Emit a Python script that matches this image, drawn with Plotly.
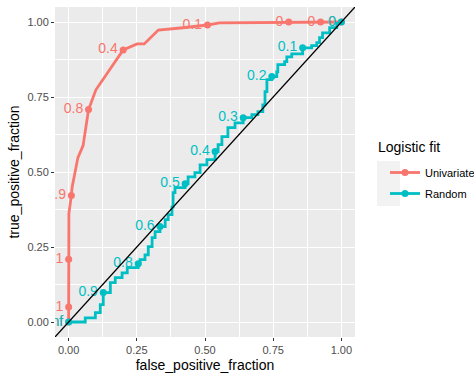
import plotly.graph_objects as go

# Univariate logistic fit ROC
uni_fpr = [0, 0, 0, 0.001, 0.010, 0.013, 0.034, 0.053, 0.073, 0.100, 0.200, 0.251,
           0.277, 0.329, 0.410, 0.509, 0.553, 0.807, 0.924, 1.0]
uni_tpr = [0, 0.050, 0.209, 0.362, 0.422, 0.450, 0.548, 0.588, 0.708, 0.774, 0.907,
           0.927, 0.927, 0.973, 0.980, 0.990, 0.997, 1.0, 1.0, 1.0]
uni_lab = ['Inf', '1', '1', '', '0.9', '', '', '', '0.8', '', '0.4', '', '',
           '', '', '0.1', '', '0', '0', '0']

# Random logistic fit ROC (step curve corners)
rnd_fpr = [0, 0.061, 0.098, 0.116, 0.127, 0.153, 0.171, 0.196, 0.215, 0.255, 0.262,
           0.280, 0.292, 0.306, 0.317, 0.335, 0.354, 0.365, 0.379, 0.383, 0.390,
           0.427, 0.438, 0.463, 0.482, 0.507, 0.537, 0.548, 0.562, 0.584, 0.610,
           0.640, 0.672, 0.694, 0.712, 0.720, 0.727, 0.745, 0.763, 0.767, 0.792,
           0.800, 0.818, 0.858, 0.891, 0.910, 0.920, 0.931, 0.957, 0.983, 1.0]
rnd_tpr = [0, 0.014, 0.031, 0.058, 0.098, 0.131, 0.148, 0.164, 0.181, 0.194, 0.208,
           0.224, 0.251, 0.281, 0.301, 0.318, 0.341, 0.358, 0.384, 0.431, 0.448,
           0.461, 0.484, 0.498, 0.524, 0.541, 0.568, 0.591, 0.618, 0.648, 0.664,
           0.681, 0.691, 0.701, 0.724, 0.768, 0.808, 0.818, 0.834, 0.858, 0.868,
           0.884, 0.894, 0.914, 0.921, 0.931, 0.948, 0.964, 0.981, 0.995, 1.0]
rnd_lab = ['Inf', '', '', '', '0.9', '', '', '', '', '0.8', '', '', '', '', '',
           '0.6', '', '', '', '', '', '0.5', '', '', '', '', '0.4', '', '', '', '',
           '0.3', '', '', '', '', '', '0.2', '', '', '', '', '', '0.1', '', '', '',
           '', '', '', '0']

diag = [-0.05, 1.05]
ticks = [0, 0.25, 0.5, 0.75, 1.0]
tick_text = ['0.00', '0.25', '0.50', '0.75', '1.00']
minor_ticks = [0.125, 0.375, 0.625, 0.875]

RED = '#F8766D'
TEAL = '#00BFC4'
FONT = 'Liberation Sans, Arial, sans-serif'

fig = go.Figure()


def add_series(fpr, tpr, lab, color, name, shape, group):
    fig.add_trace(go.Scatter(x=fpr, y=tpr, mode='lines', line=dict(color=color, width=2.8, shape=shape),
                             showlegend=False, hoverinfo='skip', legendgroup=group))
    lx = [x for x, l in zip(fpr, lab) if l]
    ly = [y for y, l in zip(tpr, lab) if l]
    lt = [l for l in lab if l]
    fig.add_trace(go.Scatter(x=lx, y=ly, mode='markers+text', text=lt,
                             textposition='middle left',
                             textfont=dict(color=color, size=14, family=FONT),
                             marker=dict(color=color, size=7),
                             showlegend=False, cliponaxis=True, legendgroup=group))
    fig.add_trace(go.Scatter(x=[None], y=[None], mode='lines+markers', name=name,
                             line=dict(color=color, width=2.8), marker=dict(color=color, size=7),
                             legendgroup=group))


add_series(uni_fpr, uni_tpr, uni_lab, RED, 'Univariate', 'linear', 'uni')
add_series(rnd_fpr, rnd_tpr, rnd_lab, TEAL, 'Random', 'hv', 'rnd')

fig.add_trace(go.Scatter(x=diag, y=diag, mode='lines', line=dict(color='black', width=1.3),
                         showlegend=False, hoverinfo='skip'))

axis_common = dict(
    range=[-0.05, 1.05], tickvals=ticks, ticktext=tick_text,
    showgrid=True, gridcolor='white', gridwidth=1.3, zeroline=False,
    ticks='outside', ticklen=3, tickcolor='#333333', tickwidth=1,
    tickfont=dict(size=11, color='#4D4D4D', family=FONT),
    minor=dict(tickvals=minor_ticks, showgrid=True, gridcolor='white', gridwidth=0.6, ticks=''),
    showline=False,
)

# legend key background (ggplot grey95 key box)
fig.add_shape(type='rect', xref='paper', yref='paper', x0=1.0733, x1=1.15, y0=0.397, y1=0.533,
              fillcolor='#F2F2F2', line=dict(width=0), layer='below')

fig.add_annotation(text='Logistic fit', xref='paper', yref='paper', x=1.071, y=0.576,
                   xanchor='left', yanchor='middle', showarrow=False,
                   font=dict(size=14, color='black', family=FONT))

fig.update_layout(
    width=474, height=379,
    margin=dict(l=55, r=119, t=7, b=42, autoexpand=False),
    paper_bgcolor='white', plot_bgcolor='#EBEBEB',
    font=dict(family=FONT, color='black'),
    xaxis=dict(**axis_common,
               title=dict(text='false_positive_fraction', font=dict(size=14), standoff=4)),
    yaxis=dict(**axis_common, title=dict(text='true_positive_fraction', font=dict(size=14), standoff=4)),
    legend=dict(font=dict(size=11), xref='paper', yref='paper',
                x=1.10, y=0.5424, xanchor='left', yanchor='top',
                bgcolor='rgba(0,0,0,0)', traceorder='grouped', tracegroupgap=2),
    showlegend=True,
)

fig.write_html('out.html', post_script="document.body.style.margin='0';",
               config={'displayModeBar': False})
